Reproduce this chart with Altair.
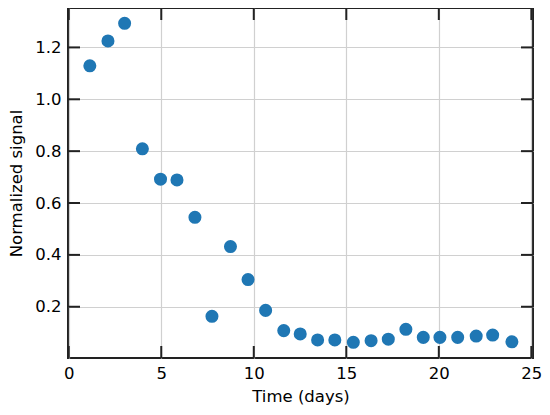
import altair as alt
import pandas as pd

# Data
time_days = [1.14, 2.12, 3.02, 3.98, 4.96, 5.85, 6.82, 7.74, 8.74, 9.69,
             10.64, 11.62, 12.51, 13.45, 14.38, 15.38, 16.34, 17.27, 18.22,
             19.16, 20.06, 21.02, 22.02, 22.91, 23.95]
signal = [1.129, 1.225, 1.293, 0.809, 0.692, 0.689, 0.545, 0.163, 0.432, 0.305,
          0.186, 0.108, 0.095, 0.072, 0.072, 0.063, 0.069, 0.075, 0.113,
          0.082, 0.082, 0.082, 0.087, 0.091, 0.065]
x_ticks = [0, 5, 10, 15, 20, 25]
y_ticks = [0.2, 0.4, 0.6, 0.8, 1.0, 1.2]

W, H = 465, 350
TL = 12
FONT = "DejaVu Sans"

df = pd.DataFrame({"t": time_days, "s": signal})
xt = pd.DataFrame({"t": x_ticks})
yt = pd.DataFrame({"s": y_ticks})

xscale = alt.Scale(domain=[-0.04, 25.09], nice=False, zero=False)
yscale = alt.Scale(domain=[0.0024, 1.352], nice=False, zero=False)

points = alt.Chart(df).mark_circle(size=170, opacity=1, color="#1f77b4").encode(
    x=alt.X("t:Q", scale=xscale, title="Time (days)",
            axis=alt.Axis(values=x_ticks, format="d", grid=True, gridColor="#d0d0d0",
                          gridWidth=1.2, domain=False, ticks=False, labelPadding=7,
                          labelFlush=False, labelOverlap=False,
                          labelFont=FONT, labelFontSize=16.5, labelColor="#000",
                          titleFont=FONT, titleFontSize=16.5, titleFontWeight="normal",
                          titleColor="#000", titlePadding=7)),
    y=alt.Y("s:Q", scale=yscale, title="Normalized signal",
            axis=alt.Axis(values=y_ticks, format=".1f", grid=True, gridColor="#d0d0d0",
                          gridWidth=1.2, domain=False, ticks=False, labelPadding=7,
                          labelFlush=False, labelOverlap=False,
                          labelFont=FONT, labelFontSize=16.5, labelColor="#000",
                          titleFont=FONT, titleFontSize=16.5, titleFontWeight="normal",
                          titleColor="#000", titlePadding=10)),
)

tick_style = dict(color="#222", strokeWidth=2)

bottom_ticks = alt.Chart(xt).mark_rule(**tick_style).encode(
    x=alt.X("t:Q", scale=xscale), y=alt.value(H), y2=alt.value(H - TL))
top_ticks = alt.Chart(xt).mark_rule(**tick_style).encode(
    x=alt.X("t:Q", scale=xscale), y=alt.value(0), y2=alt.value(TL))
left_ticks = alt.Chart(yt).mark_rule(**tick_style).encode(
    y=alt.Y("s:Q", scale=yscale), x=alt.value(0), x2=alt.value(TL))
right_ticks = alt.Chart(yt).mark_rule(**tick_style).encode(
    y=alt.Y("s:Q", scale=yscale), x=alt.value(W), x2=alt.value(W - TL))

chart = alt.layer(points, bottom_ticks, top_ticks, left_ticks, right_ticks).properties(
    width=W, height=H,
    autosize=alt.AutoSizeParams(type="none"),
    padding={"left": 60, "top": 0, "right": 9, "bottom": 49},
).configure_view(stroke="#222", strokeWidth=2)

chart.save("out.html", embed_options={"renderer": "svg", "actions": False})
